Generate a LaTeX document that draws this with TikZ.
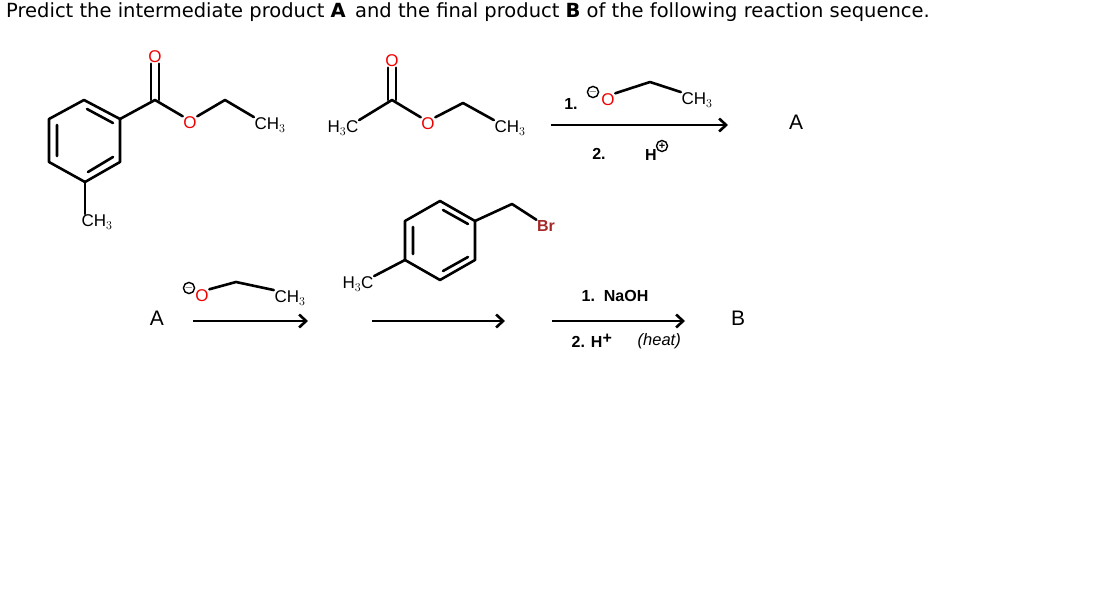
\documentclass[tikz,border=0pt]{standalone}
\usepackage{fontspec}
\setmainfont{Liberation Sans}
\newfontfamily\titlefont{DejaVu Sans}
\usetikzlibrary{arrows.meta}
\definecolor{ored}{RGB}{240,0,0}
\definecolor{brred}{RGB}{165,40,40}
\begin{document}
\begin{tikzpicture}[x=1pt,y=-1pt,
  bd/.style={line width=2.6pt,line cap=round,line join=round},
  lbl/.style={inner sep=0.5pt,font=\fontsize{17}{18}\selectfont},
  bl/.style={inner sep=0.5pt,font=\fontsize{16}{17}\selectfont\bfseries},
  big/.style={inner sep=0.5pt,font=\fontsize{21}{22}\selectfont},
  rx/.style={line width=2.6pt,-{Straight Barb[length=7pt,width=13pt]}},
  chg/.style={circle,draw,line width=1.4pt,inner sep=0pt,minimum size=11pt,font=\fontsize{11}{11}\selectfont\bfseries}]
\useasboundingbox (0,0) rectangle (1108,609);
\node[anchor=west,inner sep=0,font=\titlefont\fontsize{19.5}{21}\selectfont] (title) at (6,12)
  {Predict the intermediate product \textbf{A} \,and the final product \textbf{B} of the following reaction sequence.};
% molecule 1
\coordinate (r1) at (84,100); \coordinate (r2) at (120,119); \coordinate (r3) at (120,162);
\coordinate (r4) at (85,182); \coordinate (r5) at (49,162); \coordinate (r6) at (49,119);
\draw[bd] (r1)--(r2)--(r3)--(r4)--(r5)--(r6)--cycle;
\draw[bd] (57,125)--(57,156) (87,109)--(113,123) (113,157)--(88,172);
\coordinate (c1) at (155,100);
\node[lbl,text=ored] (o1) at (155,57) {O};
\node[lbl,text=ored] (o2) at (190,123) {O};
\coordinate (e1) at (225,100);
\node[lbl] (m1) at (270,125) {CH$_3$};
\node[lbl] (m2) at (97,222) {CH$_3$};
\draw[bd] (r2)--(c1)--(o2.north west) (o2.north east)--(e1)--(m1.north west);
\draw[bd] (151,100)--(o1.south-|151,0) (159,100)--(o1.south-|159,0);
\draw[bd] (r4)--(m2.north-|r4);
% molecule 2
\node[lbl] (h1) at (343,128) {H$_3$C};
\coordinate (c2) at (392,100);
\node[lbl,text=ored] (o3) at (392,61) {O};
\node[lbl,text=ored] (o4) at (428,124) {O};
\coordinate (e2) at (463,103);
\node[lbl] (m3) at (510,128) {CH$_3$};
\draw[bd] (h1.north east)--(c2)--(o4.north west) (o4.north east)--(e2)--(m3.north west);
\draw[bd] (388,100)--(o3.south-|388,0) (396,100)--(o3.south-|396,0);
% arrow 1
\coordinate (a1s) at (551,125); \coordinate (a1e) at (728,125);
\draw[rx] (a1s)--(a1e);
\node[bl] (n1) at (571,104) {1.};
\node[lbl,text=ored] (o5) at (608,100) {O};
\node[chg] (q1) at (593,92) {$-$};
\coordinate (e3) at (650,82);
\node[lbl] (m4) at (697,100) {CH$_3$};
\draw[bd] (o5.north east)--(e3)--(m4.north west);
\node[bl] (n2) at (599,154) {2.};
\node[lbl,font=\fontsize{16}{17}\selectfont\bfseries] (hh) at (651,155) {H};
\node[chg] (p1) at (662,146) {+};
\node[big] (A1) at (796,122) {A};
% row 2
\node[big] (A2) at (157,318) {A};
\draw[rx] (193,321)--(308,321);
\node[lbl,text=ored] (o6) at (202,296) {O};
\node[chg] (q2) at (189,288) {$-$};
\coordinate (e4) at (236,282);
\node[lbl] (m5) at (290,298) {CH$_3$};
\draw[bd] (o6.north east)--(e4)--(m5.north west);
% p-methylbenzyl bromide
\coordinate (s1) at (440,201); \coordinate (s2) at (475,221); \coordinate (s3) at (475,260);
\coordinate (s4) at (440,280); \coordinate (s5) at (405,260); \coordinate (s6) at (405,221);
\draw[bd] (s1)--(s2)--(s3)--(s4)--(s5)--(s6)--cycle;
\draw[bd] (413,227)--(413,254) (443,210)--(468,224) (468,257)--(443,271);
\coordinate (b1) at (512,204);
\node[lbl,text=brred,font=\fontsize{16}{17}\selectfont\bfseries] (br) at (546,226) {Br};
\draw[bd] (s2)--(b1)--(br.north west);
\node[lbl] (h2) at (358,284) {H$_3$C};
\draw[bd] (s5)--(h2.north east);
\draw[rx] (372,321)--(505,321);
\draw[rx] (552,321)--(685,321);
\node[bl] (na) at (615,296) {1.\ \ NaOH};
\node[bl,anchor=west] (hp) at (571,341) {2. H\raisebox{0.5ex}{\textbf{+}}};
\node[lbl,anchor=west,font=\fontsize{16.5}{17}\selectfont\itshape] (ht) at (637,341) {(heat)};
\node[big] (B) at (738,318) {B};
\end{tikzpicture}
\end{document}
